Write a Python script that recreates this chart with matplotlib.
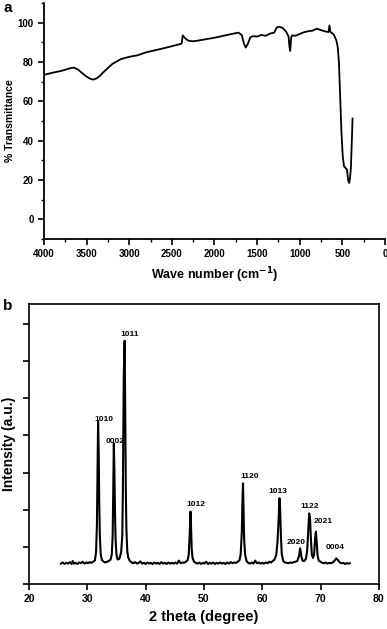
import matplotlib
matplotlib.use("Agg")
from matplotlib import pyplot as plt
from matplotlib.ticker import MultipleLocator

plt.rcParams['font.family'] = ['Liberation Sans', 'DejaVu Sans']
plt.rcParams['font.weight'] = 'bold'

# FTIR spectrum (panel a)
wavenumber = [4000, 3900, 3800, 3700, 3650, 3600, 3550, 3500, 3450, 3420, 3380, 3340,
              3300, 3200, 3100, 3000, 2900, 2800, 2700, 2600, 2500, 2400, 2385, 2372,
              2350, 2330, 2300, 2250, 2200, 2000, 1800, 1720, 1680, 1655, 1633, 1610,
              1580, 1550, 1500, 1450, 1400, 1350, 1300, 1270, 1240, 1200, 1160, 1130,
              1121, 1112, 1100, 1090, 1050, 1000, 950, 900, 850, 800, 750, 700, 662,
              651, 640, 600, 570, 555, 540, 525, 510, 495, 480, 460, 445, 432, 420,
              410, 400, 390, 380]
transmittance = [73.5, 74.6, 75.5, 76.8, 77.2, 76.2, 74.3, 72.6, 71.4, 71.1, 71.8, 73.2,
                 75.0, 79.0, 81.5, 82.7, 83.5, 85.0, 86.0, 87.0, 88.1, 89.2, 89.5, 93.6,
                 92.4, 91.6, 90.8, 90.6, 90.9, 92.4, 94.3, 95.0, 93.8, 89.5, 87.4, 89.2,
                 92.6, 93.2, 93.0, 93.8, 93.4, 94.5, 95.0, 97.6, 98.0, 97.4, 95.5, 93.0,
                 88.0, 85.7, 92.5, 93.6, 93.4, 94.3, 95.2, 95.7, 96.0, 97.0, 96.3, 95.6, 95.3,
                 98.7, 95.4, 94.0, 91.0, 88.0, 80.0, 62.0, 44.0, 32.0, 27.0, 26.0, 25.2,
                 20.0, 18.5, 21.0, 26.0, 38.0, 51.3]

# XRD pattern (panel b)
two_theta = [25.5, 25.8, 26.1, 26.4, 26.7, 27.0, 27.3, 27.5, 27.7, 28.0, 28.3, 28.6,
             28.9, 29.2, 29.5, 29.8, 30.1, 30.4, 30.7, 31.0, 31.3,
             31.5, 31.65, 31.75, 31.85, 31.95, 32.05, 32.15, 32.3, 32.5, 32.8, 33.1,
             33.4, 33.7, 34.0, 34.2,
             34.35, 34.45, 34.55, 34.65, 34.75, 34.85, 35.0, 35.2, 35.5, 35.8, 36.0,
             36.1, 36.25, 36.4, 36.5, 36.6, 36.7, 36.85, 37.0, 37.3, 37.6,
             37.9, 38.2, 38.5, 38.8, 39.1, 39.4, 39.7, 40.0, 40.3, 40.6, 40.9, 41.2,
             41.5, 41.8, 42.1, 42.4, 42.7, 43.0, 43.3, 43.6, 43.9, 44.2, 44.5, 44.8,
             45.1, 45.4, 45.7, 46.0, 46.3, 46.6, 46.9, 47.2,
             47.4, 47.55, 47.7, 47.8, 47.9, 48.05, 48.3, 48.6,
             48.9, 49.2, 49.5, 49.8, 50.1, 50.4, 50.7, 51.0, 51.3, 51.6, 51.9, 52.2,
             52.5, 52.8, 53.1, 53.4, 53.7, 54.0, 54.3, 54.6, 54.9, 55.2, 55.5, 55.8,
             56.1, 56.3, 56.5, 56.6, 56.7, 56.8, 56.9, 57.05, 57.3, 57.6,
             57.9, 58.2, 58.5, 58.8, 59.1, 59.4, 59.7, 60.0, 60.3, 60.6, 60.9, 61.2,
             61.5, 61.8, 62.1, 62.4, 62.6, 62.8, 62.95, 63.05, 63.2, 63.35, 63.6,
             63.9, 64.2, 64.5, 64.8, 65.1, 65.4, 65.7, 66.0, 66.3, 66.5, 66.7, 66.9,
             67.2, 67.5, 67.7, 67.9, 68.05, 68.2, 68.35, 68.5, 68.7, 68.9, 69.05,
             69.2, 69.35, 69.5, 69.7, 70.0, 70.3, 70.6, 70.9, 71.2, 71.5, 71.8,
             72.1, 72.4, 72.7, 73.0, 73.3, 73.6, 73.9, 74.2, 74.5, 74.8, 75.0]
intensity = [0.55, 0.58, 0.54, 0.57, 0.55, 0.59, 0.54, 0.62, 0.55, 0.57, 0.54, 0.58,
             0.56, 0.60, 0.55, 0.58, 0.56, 0.59, 0.57, 0.60, 0.63,
             0.85, 1.60, 3.00, 4.37, 3.60, 2.20, 1.30, 0.80, 0.65, 0.60, 0.58,
             0.60, 0.62, 0.66, 0.80,
             1.30, 2.60, 3.79, 3.00, 1.90, 1.20, 0.80, 0.66, 0.68, 0.85, 1.30,
             2.50, 5.56, 6.55, 4.80, 2.60, 1.50, 0.90, 0.72, 0.62, 0.58,
             0.56, 0.59, 0.55, 0.57, 0.61, 0.55, 0.57, 0.54, 0.58, 0.55, 0.57, 0.54,
             0.58, 0.55, 0.57, 0.54, 0.59, 0.55, 0.57, 0.54, 0.58, 0.55, 0.57, 0.55,
             0.58, 0.55, 0.63, 0.56, 0.58, 0.57, 0.60, 0.64,
             0.80, 1.30, 1.95, 1.50, 0.95, 0.70, 0.60, 0.57,
             0.55, 0.58, 0.54, 0.57, 0.55, 0.60, 0.54, 0.57, 0.55, 0.58, 0.54, 0.57,
             0.55, 0.58, 0.55, 0.57, 0.54, 0.58, 0.55, 0.59, 0.56, 0.58, 0.57, 0.60,
             0.64, 0.80, 1.40, 2.20, 2.71, 2.00, 1.20, 0.80, 0.62, 0.57,
             0.55, 0.58, 0.55, 0.63, 0.56, 0.58, 0.55, 0.57, 0.55, 0.58, 0.56, 0.60,
             0.58, 0.62, 0.66, 0.78, 1.10, 1.70, 2.31, 2.10, 1.30, 0.80, 0.62,
             0.58, 0.57, 0.56, 0.58, 0.57, 0.59, 0.60, 0.62, 0.75, 0.96, 0.75, 0.63,
             0.62, 0.68, 0.90, 1.50, 1.90, 1.75, 1.20, 0.80, 0.70, 0.80, 1.20,
             1.41, 1.10, 0.75, 0.63, 0.60, 0.57, 0.56, 0.58, 0.55, 0.57, 0.56,
             0.58, 0.63, 0.69, 0.64, 0.58, 0.56, 0.57, 0.54, 0.56, 0.55, 0.56]

peak_labels = ['1010', '0002', '1011', '1012', '1120', '1013', '2020', '1122', '2021', '0004']
label_x = [32.8, 34.8, 37.3, 48.6, 57.8, 62.6, 65.9, 68.1, 70.5, 72.5]
label_y = [4.44, 3.83, 6.72, 2.13, 2.89, 2.50, 1.11, 2.08, 1.69, 0.98]

fig = plt.figure(figsize=(3.87, 6.29), dpi=100)

# panel a
ax1 = fig.add_axes([0.1137, 0.62, 0.881, 0.375])
ax1.plot(wavenumber, transmittance, color='black', linewidth=1.3)
ax1.set_xlim(4000, 0)
ax1.set_ylim(-10, 110)
ax1.xaxis.set_major_locator(MultipleLocator(500))
ax1.xaxis.set_minor_locator(MultipleLocator(250))
ax1.yaxis.set_major_locator(MultipleLocator(20))
ax1.yaxis.set_minor_locator(MultipleLocator(10))
ax1.set_yticks([0, 20, 40, 60, 80, 100])
ax1.spines['top'].set_visible(False)
ax1.spines['right'].set_visible(False)
for s in ['left', 'bottom']:
    ax1.spines[s].set_linewidth(1.3)
ax1.tick_params(which='major', direction='out', length=4, width=1.2, labelsize=7)
ax1.tick_params(which='minor', direction='out', length=2, width=1)
ax1.set_xlabel('Wave number (cm$^{\\mathbf{-1}}$)', fontsize=9, fontweight='bold', labelpad=4)
ax1.set_ylabel('% Transmittance', fontsize=7.5, fontweight='bold', labelpad=2)
fig.text(0.008, 0.987, 'a', fontsize=11, fontweight='bold', va='center')

# panel b
ax2 = fig.add_axes([0.0749, 0.0715, 0.9041, 0.4452])
ax2.plot(two_theta, intensity, color='black', linewidth=1.5)
ax2.set_xlim(20, 80)
ax2.set_ylim(0, 7.54)
ax2.set_xticks([20, 30, 40, 50, 60, 70, 80])
ax2.set_yticks([0, 1, 2, 3, 4, 5, 6, 7])
ax2.set_yticklabels([])
for s in ax2.spines.values():
    s.set_linewidth(1.2)
ax2.tick_params(direction='out', length=4, width=1.2, labelsize=7.5)
for t, x, y in zip(peak_labels, label_x, label_y):
    ax2.text(x, y, t, fontsize=6, fontweight='bold', ha='center', va='center')
ax2.set_xlabel('2 theta (degree)', fontsize=10.5, fontweight='bold', labelpad=4)
ax2.set_ylabel('Intensity (a.u.)', fontsize=10, fontweight='bold', labelpad=2)
fig.text(0.008, 0.513, 'b', fontsize=11, fontweight='bold', va='center')

plt.savefig('out.png', dpi=100)
